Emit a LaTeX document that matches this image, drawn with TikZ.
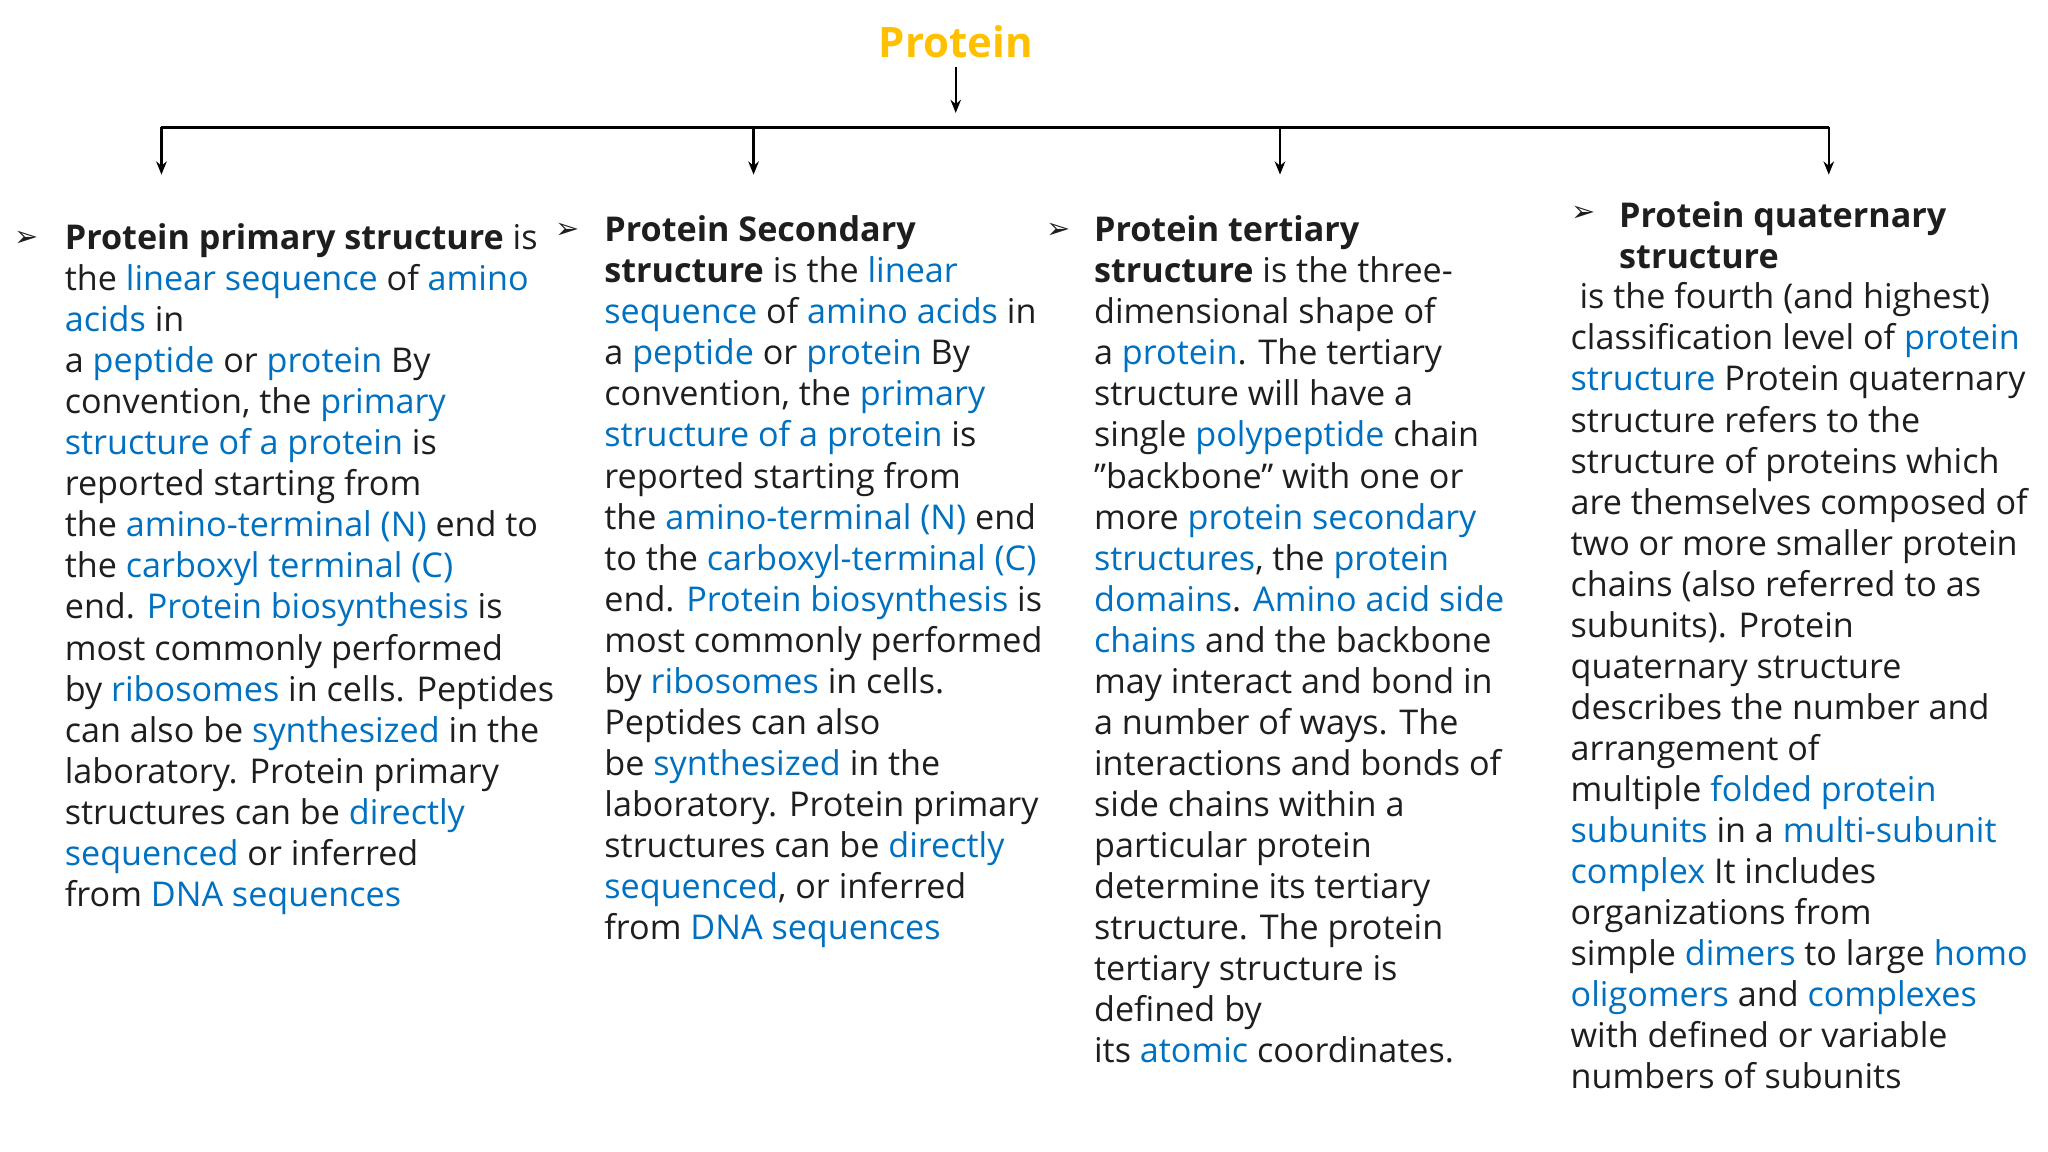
\documentclass[tikz,border=0pt]{standalone}
\usetikzlibrary{arrows.meta}
\usepackage{fontspec}
\setmainfont{Open Sans}
\newfontfamily\dv{DejaVu Sans}
\definecolor{bl}{RGB}{0,112,192}
\definecolor{gold}{RGB}{255,192,0}
\definecolor{tx}{RGB}{30,30,30}
\newcommand{\bl}[1]{\textcolor{bl}{#1}}
\begin{document}
\begin{tikzpicture}[x=0.5pt,y=-0.5pt,
  col/.style={anchor=north west,align=left,inner sep=0pt,text=tx,font=\fontsize{13}{15.63}\selectfont},
  bul/.style={inner sep=0pt,text=tx,font=\dv\fontsize{11}{12}\selectfont},
  arr/.style={-{Stealth[length=5pt,width=4pt]},line width=0.9pt}]
\useasboundingbox (0,0) rectangle (1560,877.5);
\node[font=\bfseries\fontsize{16}{18}\selectfont,text=gold] (p) at (728,32) {Protein};
\coordinate (pe) at (728,86);
\coordinate (hl) at (123,97);
\coordinate (hr) at (1393,97);
\draw[arr] (p.south) -- (pe);
\draw[line width=0.9pt] (hl) -- (hr);
\foreach \x/\n in {123/a,574/b,975/c,1393/d}{
  \coordinate (t\n) at (\x,97); \coordinate (e\n) at (\x,133);
  \draw[arr] (t\n) -- (e\n);}
\node[bul] (b1) at (20,182) {➢};
\node[bul] (b2) at (432,176) {➢};
\node[bul] (b3) at (806,176) {➢};
\node[bul] (b4) at (1206,163) {➢};
\node[col] (c1) at (49,170) {\textbf{Protein primary structure} is\\
the \bl{linear sequence} of \bl{amino}\\
\bl{acids} in\\
a \bl{peptide} or \bl{protein} By\\
convention, the \bl{primary}\\
\bl{structure of a protein} is\\
reported starting from\\
the \bl{amino-terminal (N)} end to\\
the \bl{carboxyl terminal (C)}\\
end. \bl{Protein biosynthesis} is\\
most commonly performed\\
by \bl{ribosomes} in cells. Peptides\\
can also be \bl{synthesized} in the\\
laboratory. Protein primary\\
structures can be \bl{directly}\\
\bl{sequenced} or inferred\\
from \bl{DNA sequences}};
\node[col] (c2) at (460,164) {\textbf{Protein Secondary}\\
\textbf{structure} is the \bl{linear}\\
\bl{sequence} of \bl{amino acids} in\\
a \bl{peptide} or \bl{protein} By\\
convention, the \bl{primary}\\
\bl{structure of a protein} is\\
reported starting from\\
the \bl{amino-terminal (N)} end\\
to the \bl{carboxyl-terminal (C)}\\
end. \bl{Protein biosynthesis} is\\
most commonly performed\\
by \bl{ribosomes} in cells.\\
Peptides can also\\
be \bl{synthesized} in the\\
laboratory. Protein primary\\
structures can be \bl{directly}\\
\bl{sequenced}, or inferred\\
from \bl{DNA sequences}};
\node[col] (c3) at (833,164) {\textbf{Protein tertiary}\\
\textbf{structure} is the three-\\
dimensional shape of\\
a \bl{protein}. The tertiary\\
structure will have a\\
single \bl{polypeptide} chain\\
"backbone" with one or\\
more \bl{protein secondary}\\
\bl{structures}, the \bl{protein}\\
\bl{domains}. \bl{Amino acid side}\\
\bl{chains} and the backbone\\
may interact and bond in\\
a number of ways. The\\
interactions and bonds of\\
side chains within a\\
particular protein\\
determine its tertiary\\
structure. The protein\\
tertiary structure is\\
defined by\\
its \bl{atomic} coordinates.};
\node[col] (c4h) at (1233,153) {\textbf{Protein quaternary}\\ \textbf{structure}};
\node[col] (c4) at (1196,215) {\ is the fourth (and highest)\\
classification level of \bl{protein}\\
\bl{structure} Protein quaternary\\
structure refers to the\\
structure of proteins which\\
are themselves composed of\\
two or more smaller protein\\
chains (also referred to as\\
subunits). Protein\\
quaternary structure\\
describes the number and\\
arrangement of\\
multiple \bl{folded protein}\\
\bl{subunits} in a \bl{multi-subunit}\\
\bl{complex} It includes\\
organizations from\\
simple \bl{dimers} to large \bl{homo}\\
\bl{oligomers} and \bl{complexes}\\
with defined or variable\\
numbers of subunits};
\end{tikzpicture}
\end{document}
